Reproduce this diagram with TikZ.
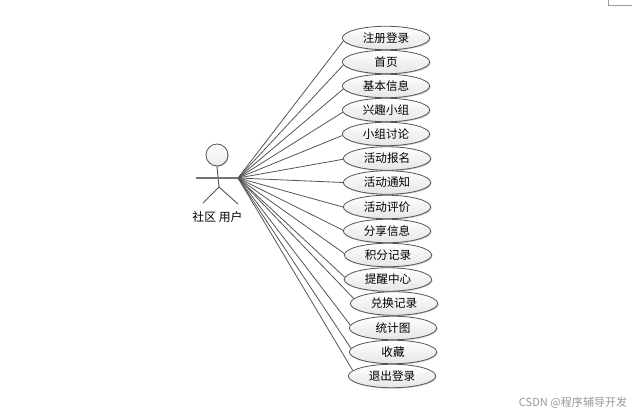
\documentclass[tikz,border=0pt]{standalone}
\usepackage{fontspec}
\setmainfont{Noto Sans CJK SC}
\usetikzlibrary{shapes.geometric,shadows,backgrounds}
\definecolor{linec}{HTML}{555555}
\tikzset{
  x=0.75pt,y=-0.75pt,
  usecase/.style={ellipse,draw=linec,line width=0.6pt,minimum width=65.5pt,minimum height=17.6pt,inner sep=0pt,
    top color=white,bottom color=black!10,font=\fontsize{8.7pt}{10pt}\selectfont,
    drop shadow={shadow xshift=0.7pt,shadow yshift=-0.7pt,opacity=0.2,fill=black}},
  conn/.style={draw=linec,line width=0.6pt},
  actorline/.style={draw=linec,line width=0.7pt},
}
\begin{document}
\begin{tikzpicture}
\useasboundingbox (0,0) rectangle (637,415);
\draw[black!40,line width=0.5pt] (608,0) -- (608,5) -- (632,5);
\coordinate (hand) at (238,178);
\foreach \n/\x/\y/\t/\a in {
 1/386/38/注册登录/184, 2/386/62/首页/184, 3/386/86/基本信息/184, 4/386/110/兴趣小组/183,
 5/386/134/小组讨论/182, 6/387/158.5/活动报名/181, 7/387/182.5/活动通知/180, 8/387/207/活动评价/180,
 9/387/231/分享信息/179, 10/388/255/积分记录/178, 11/388/279.5/提醒中心/177, 12/394/303.5/兑换记录/173,
 13/393/328/统计图/176, 14/393/352/收藏/175, 15/392/376/退出登录/172}{
  \node[usecase] (u\n) at (\x,\y) {\t};
  \begin{scope}[on background layer]
    \draw[conn] (hand) -- (u\n.\a);
  \end{scope}
}
\node[circle,draw=linec,line width=0.6pt,minimum size=16.5pt,inner sep=0pt,top color=white,bottom color=black!8,
  drop shadow={shadow xshift=0.6pt,shadow yshift=-0.6pt,opacity=0.2,fill=black}] (head) at (217,155) {};
\coordinate (armL) at (196,178);
\coordinate (hip) at (219,187);
\coordinate (footL) at (203,203);
\coordinate (footR) at (238,204);
\draw[actorline] (head.south) -- (hip);
\draw[draw=black!55,line width=1.1pt] (armL) -- (hand);
\draw[actorline] (footL) -- (hip) -- (footR);
\node[font=\fontsize{8.9pt}{10pt}\selectfont] (actorlabel) at (217.5,217) {社区 用户};
\node[text=black!40,font=\fontsize{8.3pt}{9pt}\selectfont,anchor=east] (mark) at (632,403) {CSDN @程序辅导开发};
\end{tikzpicture}
\end{document}
